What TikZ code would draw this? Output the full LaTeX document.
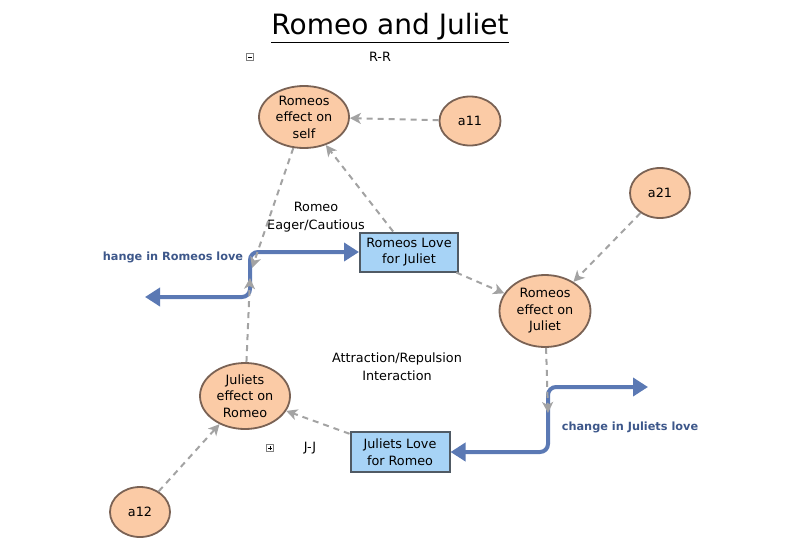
\documentclass[tikz,border=0pt]{standalone}
\usepackage{fontspec}
\setmainfont{DejaVu Sans}
\usetikzlibrary{shapes.geometric,arrows.meta}
\definecolor{peach}{HTML}{FBCBA6}
\definecolor{peachline}{HTML}{7A6254}
\definecolor{boxfill}{HTML}{A7D3F6}
\definecolor{boxline}{HTML}{505A64}
\definecolor{flow}{HTML}{5B79B4}
\definecolor{flowtext}{HTML}{3D578A}
\definecolor{dashgray}{HTML}{A3A3A3}
\begin{document}
\begin{tikzpicture}[x=1pt,y=-1pt,
 aux/.style={ellipse,draw=peachline,line width=1.8pt,fill=peach,inner sep=0pt,align=center,font=\fontsize{12.8}{16.5}\selectfont},
 stock/.style={rectangle,draw=boxline,line width=2pt,fill=boxfill,inner sep=0pt,align=center,font=\fontsize{12.8}{16.5}\selectfont,minimum width=98pt,minimum height=39pt},
 link/.style={draw=dashgray,line width=2pt,dash pattern=on 6pt off 5pt,-{Stealth[length=11pt,width=11pt,inset=3pt]}},
 pipe/.style={draw=flow,line width=4pt,rounded corners=8pt,{Triangle[length=15pt,width=18pt]}-{Triangle[length=15pt,width=18pt]}},
 lbl/.style={font=\fontsize{12.8}{18}\selectfont,align=center,inner sep=0pt},
 flowlbl/.style={font=\bfseries\fontsize{11.3}{12}\selectfont,text=flowtext,inner sep=0pt},
 icon/.style={draw=gray,fill=white,line width=0.6pt,minimum size=7pt,inner sep=0pt}
]
\useasboundingbox (0,0) rectangle (800,549);

% title
\node[font=\fontsize{28}{30}\selectfont,inner sep=0pt] (title) at (390,28) {\underline{Romeo and Juliet}};

% icons and group labels
\node[icon] (collR) at (250,57) {};
\draw[line width=0.6pt] ([xshift=1.8pt]collR.west) -- ([xshift=-1.8pt]collR.east);
\node[lbl] (rr) at (380,57) {R-R};
\node[icon] (collJ) at (270,448) {};
\draw[line width=0.6pt] ([xshift=1.8pt]collJ.west) -- ([xshift=-1.8pt]collJ.east);
\draw[line width=0.6pt] ([yshift=-1.8pt]collJ.north) -- ([yshift=1.8pt]collJ.south);
\node[lbl] (jj) at (310,448) {J-J};

% auxiliaries
\node[aux,minimum width=90pt,minimum height=62pt] (self) at (304,117) {Romeos\\effect on\\self};
\node[aux,minimum width=61pt,minimum height=49pt] (a11) at (470,121) {a11};
\node[aux,minimum width=60pt,minimum height=50pt] (a21) at (660,193) {a21};
\node[aux,minimum width=91pt,minimum height=72pt] (rej) at (545,311) {Romeos\\effect on\\Juliet};
\node[aux,minimum width=90pt,minimum height=66pt] (jer) at (245,396) {Juliets\\effect on\\Romeo};
\node[aux,minimum width=60pt,minimum height=50pt] (a12) at (140,512) {a12};

% stocks
\node[stock] (rl) at (409,252) {Romeos Love\\for Juliet};
\node[stock,minimum width=99pt,minimum height=40pt] (jl) at (400,452) {Juliets Love\\for Romeo};

% text labels
\node[lbl] (eager) at (316,217) {Romeo\\Eager/Cautious};
\node[lbl] (attr) at (397,367) {Attraction/Repulsion\\Interaction};
\node[flowlbl] (rflow) at (173,257) {hange in Romeos love};
\node[flowlbl] (jflow) at (630,427) {change in Juliets love};

% flows
\coordinate (rOut) at (145,297);
\coordinate (rC1) at (250,297);
\coordinate (rC2) at (250,252);
\draw[pipe] (rOut) -- (rC1) -- (rC2) -- (rl.west);
\coordinate (jOut) at (648,387);
\coordinate (jC1) at (548,452);
\coordinate (jC2) at (548,387);
\draw[pipe] (jl.east) -- (jC1) -- (jC2) -- (jOut);

% valve targets
\coordinate (vR1) at (252,268);
\coordinate (vR2) at (250,278);
\coordinate (vJ) at (548,413);

% links
\draw[link] (a11) -- (self);
\draw[link] (rl) -- (self);
\draw[link] (self) -- (vR1);
\draw[link] (jer) -- (vR2);
\draw[link] (rl) -- (rej);
\draw[link] (a21) -- (rej);
\draw[link] (rej) -- (vJ);
\draw[link] (jl) -- (jer);
\draw[link] (a12) -- (jer);
\end{tikzpicture}
\end{document}
